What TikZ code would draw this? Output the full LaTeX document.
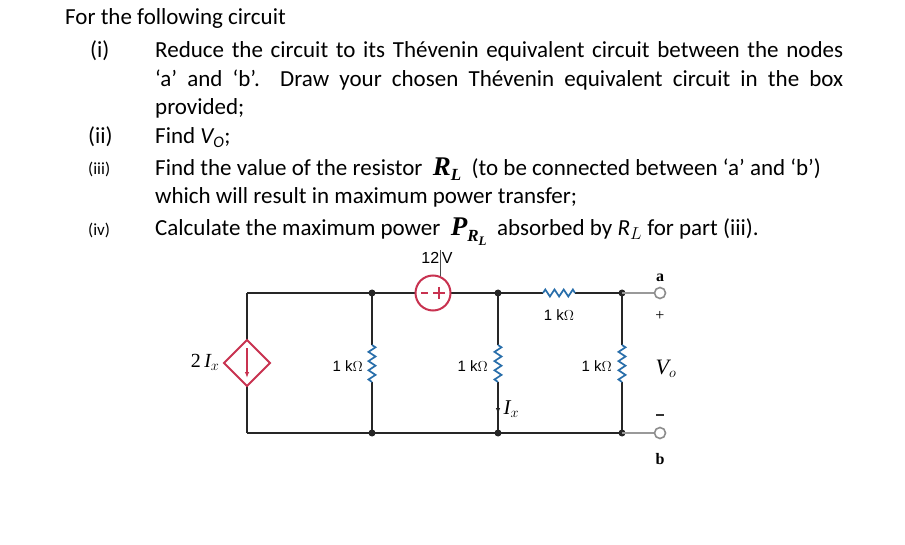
\documentclass[tikz,border=0pt]{standalone}
\usepackage{fontspec}
\setmainfont{Carlito}
\newfontfamily\sfh{Liberation Sans}
\newfontfamily\serifh{Liberation Serif}
\usetikzlibrary{arrows.meta}
\definecolor{resb}{RGB}{40,110,170}
\definecolor{srcr}{RGB}{200,50,80}
\tikzset{
  txt/.style={anchor=base west,inner sep=0pt,font=\fontsize{23}{26}\selectfont},
  lab/.style={anchor=base west,inner sep=0pt,font=\fontsize{17}{19}\selectfont},
  wire/.style={line width=2.4pt,black!85},
  res/.style={line width=1.7pt,resb},
  dot/.style={circle,fill=black!85,inner sep=0pt,minimum size=7pt},
  term/.style={circle,draw=black!45,line width=1.6pt,fill=white,inner sep=0pt,minimum size=11pt},
  clab/.style={font=\sfh\fontsize{15}{16}\selectfont,inner sep=1pt},
}
\newcommand{\bigRL}{{\serifh\bfseries\itshape\fontsize{27}{29}\selectfont R\raisebox{-5pt}{\fontsize{17}{18}\selectfont L}}}
\newcommand{\bigPRL}{{\serifh\bfseries\itshape\fontsize{27}{29}\selectfont P\raisebox{-6pt}{\fontsize{17}{18}\selectfont R\raisebox{-4pt}{\fontsize{13}{14}\selectfont L}}}}
\begin{document}
\begin{tikzpicture}[x=1pt,y=-1pt]
\useasboundingbox (0,0) rectangle (905,545);
\fill[white] (0,0) rectangle (905,545);
% text
\node[txt] (t0) at (65,25) {For the following circuit};
\node[txt] (l1) at (90,58) {(i)};
\node[txt] (a1) at (155,58) {\makebox[688pt][s]{Reduce the circuit to its Thévenin equivalent circuit between the nodes}};
\node[txt] (a2) at (155,87) {\makebox[688pt][s]{‘a’ and ‘b’.\ \ Draw your chosen Thévenin equivalent circuit in the box}};
\node[txt] (a3) at (155,115) {provided;};
\node[txt] (l2) at (88,144) {(ii)};
\node[txt] (b1) at (155,144) {Find \textit{V\textsubscript{O}};};
\node[lab] (l3) at (88,175) {(iii)};
\node[txt] (c1) at (155,176) {Find the value of the resistor \ \bigRL\ \ (to be connected between ‘a’ and ‘b’)};
\node[txt] (c2) at (155,204) {which will result in maximum power transfer;};
\node[lab] (l4) at (88,236) {(iv)};
\node[txt] (d1) at (155,236) {Calculate the maximum power \ \bigPRL\ \ absorbed by \textit{R$_L$} for part (iii).};
% circuit coordinates
\coordinate (TL) at (247,293); \coordinate (BL) at (247,433);
\coordinate (T2) at (372,293); \coordinate (B2) at (372,433);
\coordinate (T3) at (498,293); \coordinate (B3) at (498,433);
\coordinate (T4) at (622,293); \coordinate (B4) at (622,433);
% wires
\draw[wire] (TL) -- (T2) -- (416,293);
\draw[wire] (450,293) -- (T3) -- (543,293);
\draw[wire] (575,293) -- (T4);
\draw[wire] (BL) -- (B4);
\draw[wire] (TL) -- (247,340); \draw[wire] (247,386) -- (BL);
\foreach \x in {372,498,622}{
  \draw[wire] (\x,293) -- (\x,345); \draw[wire] (\x,382) -- (\x,433);
  \draw[res] (\x,345) -- ++(3.5,2.3)\foreach \i in {1,...,7}{ -- ++({(-1)^\i*7},4.6)} -- (\x,382);
}
\draw[res] (543,293) -- ++(2.3,-3.5)\foreach \i in {1,...,6}{ -- ++(4.6,{(-1)^\i*(-7)})} -- (575,293);
% dots
\foreach \p in {T2,B2,T3,B3,T4,B4} \node[dot] at (\p) {};
% terminals
\draw[line width=1.6pt,black!40] (T4) -- (655,293);
\draw[line width=1.6pt,black!40] (B4) -- (655,433);
\node[term] (ta) at (660,293) {};
\node[term] (tb) at (660,433) {};
% voltage source
\node[circle,draw=srcr,line width=2pt,minimum size=35pt,inner sep=0pt] (vs) at (433,293) {};
\draw[srcr,line width=1.3pt] (421,293) -- (428,293);
\draw[srcr,line width=1.3pt] (433,293) -- (445,293) (439,287) -- (439,299);
\node[clab,font=\sfh\fontsize{16}{17}\selectfont] (v12) at (437,258) {12\,V};
\draw[black!70,line width=1pt] (440,250) -- (440,276);
% dependent source
\draw[srcr,line width=2pt] (247,340) -- (270,363) -- (247,386) -- (224,363) -- cycle;
\draw[srcr,line width=1.3pt,-{Latex[length=6pt]}] (247,348) -- (247,378);
% labels
\node[font=\serifh\fontsize{20}{22}\selectfont,anchor=east] (dl) at (223,362) {2\,\textit{I$_x$}};
\node[clab,anchor=east] (r1) at (364,366) {1 k$\Omega$};
\node[clab,anchor=east] (r2) at (489,366) {1 k$\Omega$};
\node[clab,anchor=east] (r3) at (613,366) {1 k$\Omega$};
\node[clab] (r4) at (559,315) {1 k$\Omega$};
\draw[black!85,line width=1pt,-{Latex[length=6pt]}] (498,394) -- (498,414);
\node[font=\serifh\itshape\fontsize{21}{23}\selectfont,anchor=west] (ix) at (500,409) {I$_x$};
\node[font=\serifh\bfseries\fontsize{16}{17}\selectfont] (na) at (660,278) {a};
\node[font=\serifh\bfseries\fontsize{16}{17}\selectfont] (nb) at (660,459) {b};
\node[font=\serifh\fontsize{16}{17}\selectfont] (pl) at (660,316) {+};
\draw[black!80,line width=1.2pt] (656,415) -- (664,415);
\node[font=\serifh\itshape\fontsize{22}{24}\selectfont] (vo) at (666,369) {V$_o$};
\end{tikzpicture}
\end{document}
